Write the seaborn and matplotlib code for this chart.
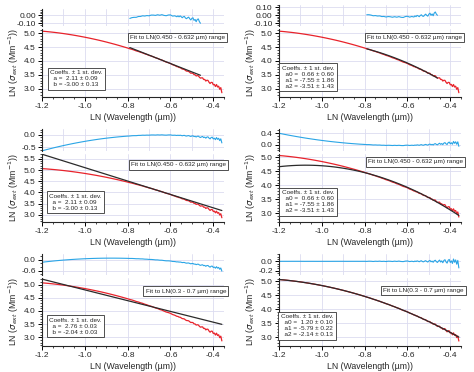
import numpy as np
import pandas as pd
import seaborn as sns
import matplotlib
matplotlib.use("Agg")
import matplotlib.pyplot as plt
from matplotlib.ticker import FixedLocator, MultipleLocator, FormatStrFormatter

sns.set_style("ticks")
plt.rcParams["font.family"] = ["Liberation Sans", "DejaVu Sans"]
plt.rcParams["mathtext.fontset"] = "dejavusans"

# ---------------- data ----------------
ln_wavelength = [
    -1.20, -1.18, -1.16, -1.14, -1.12, -1.10, -1.08, -1.06, -1.04, -1.02,
    -1.00, -0.98, -0.96, -0.94, -0.92, -0.90, -0.88, -0.86, -0.84, -0.82,
    -0.80, -0.79, -0.78, -0.77, -0.76, -0.75, -0.74, -0.73, -0.72, -0.71,
    -0.70, -0.69, -0.68, -0.67, -0.66, -0.65, -0.64, -0.63, -0.62, -0.61,
    -0.60, -0.59, -0.58, -0.57, -0.565, -0.56, -0.555, -0.55, -0.545, -0.54,
    -0.535, -0.53, -0.525, -0.52, -0.515, -0.51, -0.505, -0.50, -0.495, -0.49,
    -0.485, -0.48, -0.475, -0.47, -0.465, -0.46, -0.455, -0.45, -0.445, -0.44,
    -0.435, -0.43, -0.425, -0.42, -0.415, -0.41, -0.405, -0.40, -0.395, -0.39,
    -0.385, -0.38, -0.375, -0.37, -0.365, -0.36,
]
ln_extinction = [
    5.066, 5.053, 5.037, 5.020, 5.001, 4.980, 4.957, 4.933, 4.907, 4.879,
    4.850, 4.819, 4.786, 4.752, 4.716, 4.678, 4.638, 4.597, 4.554, 4.509,
    4.463, 4.437, 4.417, 4.391, 4.361, 4.341, 4.312, 4.290, 4.257, 4.233,
    4.200, 4.179, 4.149, 4.115, 4.093, 4.057, 4.034, 3.995, 3.961, 3.940,
    3.911, 3.866, 3.840, 3.798, 3.794, 3.767, 3.764, 3.739, 3.711, 3.708,
    3.697, 3.662, 3.639, 3.636, 3.628, 3.593, 3.563, 3.568, 3.560, 3.513,
    3.509, 3.466, 3.479, 3.471, 3.422, 3.387, 3.397, 3.398, 3.338, 3.343,
    3.284, 3.312, 3.308, 3.242, 3.196, 3.236, 3.234, 3.149, 3.163, 3.088,
    3.160, 3.071, 3.100, 2.989, 3.048, 2.867,
]

# fit coefficients (constant, linear, quadratic) and 1 st. dev. as shown in the boxes
lin_vis_coeffs = [2.11, -3.00]
lin_vis_errors = [0.09, 0.13]
quad_vis_coeffs = [0.66, -7.55, -3.51]
quad_vis_errors = [0.60, 1.86, 1.43]
lin_uv_coeffs = [2.76, -2.04]
lin_uv_errors = [0.03, 0.03]
quad_uv_coeffs = [1.20, -5.79, -2.14]
quad_uv_errors = [0.10, 0.22, 0.13]

fit_range_vis_um = [0.450, 0.632]
fit_range_uv_um = [0.3, 0.7]
x_ticks = [-1.2, -1.0, -0.8, -0.6, -0.4]

# ---------------- figure ----------------
W, H = 474, 372
fig = plt.figure(figsize=(W / 100, H / 100), dpi=100)

def px_axes(x0, top, x1, bottom):
    return fig.add_axes([x0 / W, 1 - bottom / H, (x1 - x0) / W, (bottom - top) / H])

RED = "#e8232b"
BLUE = "#2aa5e6"
BLACK = "#2b2b2b"
GRID = "#dcdcf0"
TICK_FS = 6.0
LABEL_FS = 6.3
BOX_FS = 4.6

df = pd.DataFrame({"x": ln_wavelength, "y": ln_extinction})
xa = df["x"].to_numpy()
ya = df["y"].to_numpy()

def poly(coeffs, x):
    return sum(c * x ** i for i, c in enumerate(coeffs))

panels = [
    dict(col=0, row=0, coeffs=lin_vis_coeffs, errs=lin_vis_errors, names=["a", "b"],
         rng=fit_range_vis_um, full=False, ylim=(2.714, 5.143), yt=[3.0, 3.5, 4.0, 4.5, 5.0],
         rtop=9, rylim=(-0.1375, 0.075), rt=[0.0, -0.10], rminor=0.02, rfmt="%.2f",
         fitpos=(0.745, 0.875), cpos=(0.19, 0.265)),
    dict(col=1, row=0, coeffs=quad_vis_coeffs, errs=quad_vis_errors, names=["a0", "a1", "a2"],
         rng=fit_range_vis_um, full=False, ylim=(2.714, 5.143), yt=[3.0, 3.5, 4.0, 4.5, 5.0],
         rtop=5, rylim=(-0.1375, 0.125), rt=[0.10, 0.0, -0.10], rminor=0.02, rfmt="%.2f",
         fitpos=(0.745, 0.875), cpos=(0.16, 0.29)),
    dict(col=0, row=1, coeffs=lin_vis_coeffs, errs=lin_vis_errors, names=["a", "b"],
         rng=fit_range_vis_um, full=True, ylim=(2.69, 5.72), yt=[3.0, 3.5, 4.0, 4.5, 5.0, 5.5],
         rtop=129, rylim=(-0.65, 0.24), rt=[0.0, -0.5], rminor=0.1, rfmt="%.1f",
         fitpos=(0.75, 0.84), cpos=(0.185, 0.285)),
    dict(col=1, row=1, coeffs=quad_vis_coeffs, errs=quad_vis_errors, names=["a0", "a1", "a2"],
         rng=fit_range_vis_um, full=True, ylim=(2.70, 5.12), yt=[3.0, 3.5, 4.0, 4.5, 5.0],
         rtop=129, rylim=(-0.22, 0.55), rt=[0.4, 0.0], rminor=0.1, rfmt="%.1f",
         fitpos=(0.75, 0.885), cpos=(0.16, 0.295)),
    dict(col=0, row=2, coeffs=lin_uv_coeffs, errs=lin_uv_errors, names=["a", "b"],
         rng=fit_range_uv_um, full=True, ylim=(2.685, 5.25), yt=[3.0, 3.5, 4.0, 4.5, 5.0],
         rtop=254, rylim=(-0.84, 0.31), rt=[0.0, -0.6], rminor=0.2, rfmt="%.1f",
         fitpos=(0.79, 0.805), cpos=(0.185, 0.285)),
    dict(col=1, row=2, coeffs=quad_uv_coeffs, errs=quad_uv_errors, names=["a0", "a1", "a2"],
         rng=fit_range_uv_um, full=True, ylim=(2.70, 5.12), yt=[3.0, 3.5, 4.0, 4.5, 5.0],
         rtop=254, rylim=(-0.29, 0.155), rt=[0.0, -0.2], rminor=0.05, rfmt="%.1f",
         fitpos=(0.795, 0.815), cpos=(0.155, 0.295)),
]

col_x0 = [42, 279]
col_w = 182
main_rows = [(29, 97), (154, 221.7), (278, 345.7)]
res_bottom = [26, 151, 275]

def style_common(ax):
    ax.set_xlim(-1.2, -0.35)
    ax.xaxis.set_minor_locator(MultipleLocator(0.1))
    ax.grid(True, which="major", color=GRID, linewidth=0.6)
    ax.grid(True, which="minor", axis="x", color=GRID, linewidth=0.6)
    ax.set_axisbelow(True)
    for s in ["top", "right"]:
        ax.spines[s].set_visible(False)
    ax.spines["left"].set_linewidth(0.8)
    ax.spines["bottom"].set_linewidth(0.8)
    ax.tick_params(which="major", length=3, width=0.7, labelsize=TICK_FS, pad=1.5, color="black")
    ax.tick_params(which="minor", length=1.6, width=0.5, color="black")

for p in panels:
    x0 = col_x0[p["col"]]
    top, bot = main_rows[p["row"]]
    ax = px_axes(x0, top, x0 + col_w, bot)
    rax = px_axes(x0, p["rtop"], x0 + col_w, res_bottom[p["row"]])

    lo, hi = np.log(p["rng"][0]), np.log(p["rng"][1])
    mask = np.ones_like(xa, dtype=bool) if p["full"] else (xa >= lo) & (xa <= hi)
    xf = xa[mask]
    fit = poly(p["coeffs"], xf)
    resid = ya[mask] - fit

    # main axes
    style_common(ax)
    sns.lineplot(x=xa, y=ya, ax=ax, color=RED, linewidth=0.9, estimator=None, sort=False)
    sns.lineplot(x=xf, y=fit, ax=ax, color=BLACK, linewidth=0.9, estimator=None, sort=False)
    ax.set_ylim(*p["ylim"])
    ax.yaxis.set_major_locator(FixedLocator(p["yt"]))
    ax.yaxis.set_major_formatter(FormatStrFormatter("%.1f"))
    ax.yaxis.set_minor_locator(MultipleLocator(0.1))
    ax.xaxis.set_major_locator(FixedLocator(x_ticks))
    ax.xaxis.set_major_formatter(FormatStrFormatter("%.1f"))
    ax.xaxis.set_minor_locator(MultipleLocator(0.05))
    ax.grid(False, which="minor", axis="x")
    ax.set_xlabel("LN (Wavelength (µm))", fontsize=LABEL_FS, labelpad=2)
    ax.set_ylabel(r"LN ($\sigma_{ext}$ (Mm$^{-1}$))", fontsize=LABEL_FS, labelpad=2)

    lo_s = "%.3f" % p["rng"][0] if p["rng"][0] != 0.3 else "0.3"
    hi_s = "%.3f" % p["rng"][1] if p["rng"][1] != 0.7 else "0.7"
    ax.text(*p["fitpos"], f"Fit to LN({lo_s} - {hi_s} µm) range", transform=ax.transAxes,
            ha="center", va="center", fontsize=BOX_FS,
            bbox=dict(boxstyle="square,pad=0.35", fc="white", ec="#333333", lw=0.6))
    lines = ["Coeffs. ± 1 st. dev."]
    for n, c, e in zip(p["names"], p["coeffs"], p["errs"]):
        lines.append(f"  {n} = {c: .2f} ± {e:.2f}")
    ax.text(*p["cpos"], "\n".join(lines), transform=ax.transAxes, ha="center", va="center",
            fontsize=BOX_FS, multialignment="left", linespacing=1.25,
            bbox=dict(boxstyle="square,pad=0.4", fc="white", ec="#333333", lw=0.6))

    # residual axes
    style_common(rax)
    sns.lineplot(x=xf, y=resid, ax=rax, color=BLUE, linewidth=0.8, estimator=None, sort=False)
    rax.set_ylim(*p["rylim"])
    rax.yaxis.set_major_locator(FixedLocator(p["rt"]))
    rax.yaxis.set_major_formatter(FormatStrFormatter(p["rfmt"]))
    rax.yaxis.set_minor_locator(MultipleLocator(p["rminor"]))
    rax.xaxis.set_major_locator(FixedLocator(x_ticks))
    rax.spines["bottom"].set_visible(False)
    rax.tick_params(axis="x", which="both", bottom=False, labelbottom=False)
    rax.set_xlabel("")
    rax.set_ylabel("")

fig.savefig("out.png", dpi=100)
